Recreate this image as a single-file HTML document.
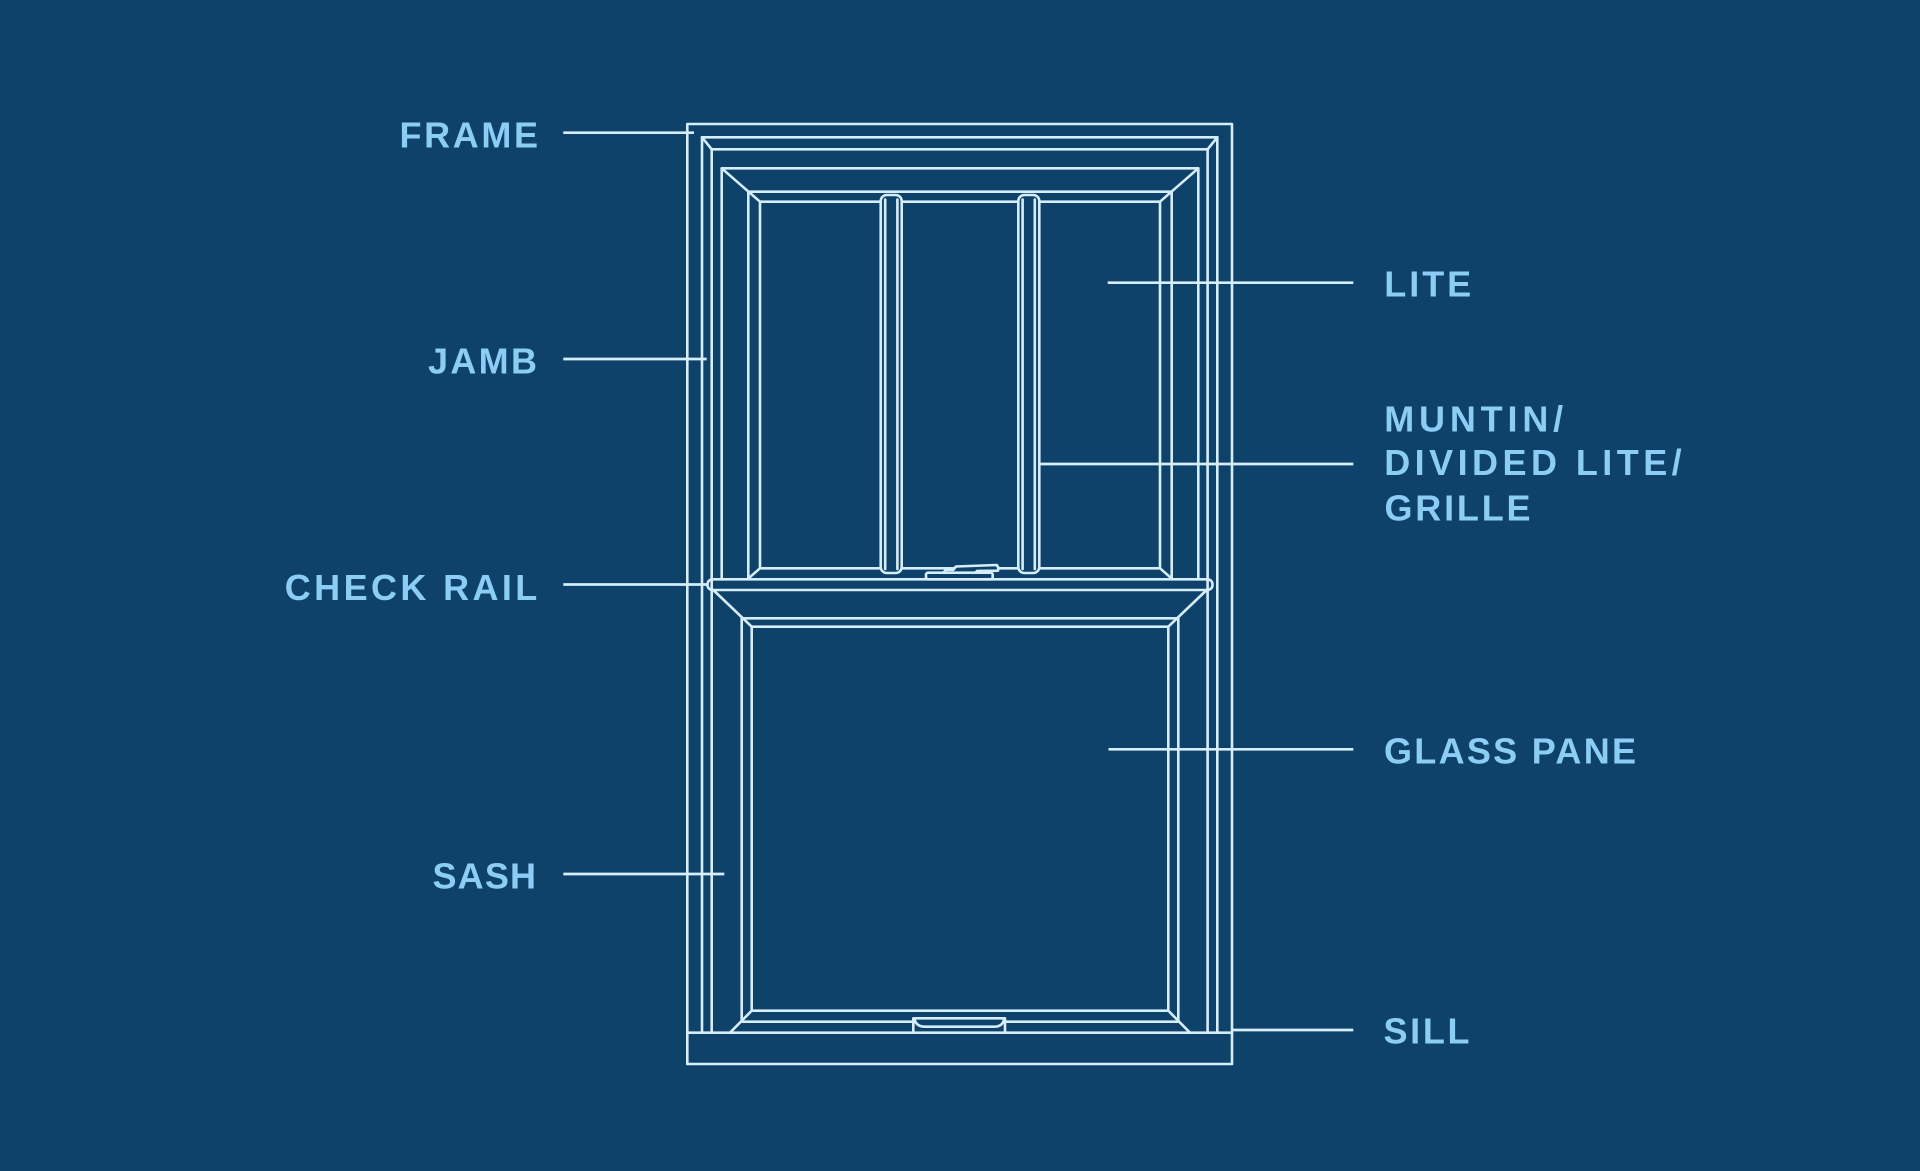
<!DOCTYPE html>
<html>
<head>
<meta charset="utf-8">
<style>
  html, body { margin: 0; padding: 0; background: #0e426a; }
  body { width: 1920px; height: 1171px; overflow: hidden; }
  svg { display: block; }
  .ln { stroke: #d6edfa; stroke-width: 2.6; fill: none; stroke-linecap: round; stroke-linejoin: round; }
  .ld { stroke: #d6edfa; stroke-width: 2.7; fill: none; }
  text { font-family: "Liberation Sans", sans-serif; font-weight: bold; font-size: 36px; fill: #8ccdf5; }
</style>
</head>
<body>
<svg width="1920" height="1171" viewBox="0 0 1920 1171" xmlns="http://www.w3.org/2000/svg">
  <rect x="0" y="0" width="1920" height="1171" fill="#0e426a"/>

  <!-- ===== FRAME ===== -->
  <rect class="ln" x="687.3" y="124" width="544.7" height="940"/>
  <line class="ln" x1="687.3" y1="1032.7" x2="1232" y2="1032.7"/>
  <polyline class="ln" points="702,1032.7 702,137.3 1217.3,137.3 1217.3,1032.7"/>
  <polyline class="ln" points="711.7,1032.7 711.7,149.3 1207.6,149.3 1207.6,1032.7"/>
  <line class="ln" x1="702" y1="137.3" x2="711.7" y2="149.3"/>
  <line class="ln" x1="1217.3" y1="137.3" x2="1207.6" y2="149.3"/>

  <!-- ===== UPPER SASH ===== -->
  <polyline class="ln" points="721.7,579.3 721.7,168.3 1198.3,168.3 1198.3,579.3"/>
  <polyline class="ln" points="748.3,578.5 748.3,191.7 1171.7,191.7 1171.7,578.5"/>
  <rect class="ln" x="760" y="201.7" width="400" height="366.6"/>
  <line class="ln" x1="721.7" y1="168.3" x2="760" y2="201.7"/>
  <line class="ln" x1="1198.3" y1="168.3" x2="1160" y2="201.7"/>
  <line class="ln" x1="760" y1="568.3" x2="748.3" y2="578.5"/>
  <line class="ln" x1="1160" y1="568.3" x2="1171.7" y2="578.5"/>

  <!-- muntins -->
  <rect class="ln" style="fill:#0e426a" x="880.7" y="195" width="21" height="378" rx="6" ry="6"/>
  <line class="ln" x1="885.2" y1="199.5" x2="885.2" y2="569"/>
  <line class="ln" x1="897.4" y1="199.5" x2="897.4" y2="569"/>
  <rect class="ln" style="fill:#0e426a" x="1018.3" y="195" width="21" height="378" rx="6" ry="6"/>
  <line class="ln" x1="1022.6" y1="199.5" x2="1022.6" y2="569"/>
  <line class="ln" x1="1034.8" y1="199.5" x2="1034.8" y2="569"/>

  <!-- ===== CHECK RAIL ===== -->
  <rect class="ln" x="707.5" y="579.3" width="505" height="10.7" rx="5" ry="5"/>

  <!-- latch -->
  <path class="ln" style="fill:#0e426a" d="M943.3,572.7 L946,569.8 L953.3,569.8 L956,566.5 L996.7,565 L998.3,567.5 L998,570.7 L977,570.9 L975,573.3 Z"/>
  <rect class="ln" style="fill:#0e426a" x="926" y="572.7" width="66.7" height="6.6" rx="2" ry="2"/>

  <!-- ===== LOWER SASH ===== -->
  <line class="ln" x1="713.3" y1="590" x2="751.7" y2="626.7"/>
  <line class="ln" x1="1206.7" y1="590" x2="1168.3" y2="626.7"/>
  <rect class="ln" x="741.7" y="618.3" width="436.6" height="403.4"/>
  <rect class="ln" x="751.7" y="626.7" width="416.6" height="384"/>
  <line class="ln" x1="751.7" y1="1010.7" x2="730" y2="1032.7"/>
  <line class="ln" x1="1168.3" y1="1010.7" x2="1190" y2="1032.7"/>

  <!-- lift handle -->
  <rect class="ln" style="fill:#0e426a" x="913.3" y="1018.3" width="91.7" height="14.4"/>
  <path class="ln" d="M914.5,1019.5 Q916.5,1026.7 925,1026.7 L994,1026.7 Q1002.5,1026.7 1004,1019.5"/>

  <!-- ===== LEADER LINES ===== -->
  <line class="ld" x1="563.3" y1="132.7" x2="694" y2="132.7"/>
  <line class="ld" x1="563.3" y1="359" x2="706.7" y2="359"/>
  <line class="ld" x1="563.3" y1="584.5" x2="708" y2="584.5"/>
  <line class="ld" x1="563.3" y1="874" x2="724.3" y2="874"/>

  <line class="ld" x1="1107.7" y1="282.7" x2="1353.3" y2="282.7"/>
  <line class="ld" x1="1039.3" y1="464" x2="1353.3" y2="464"/>
  <line class="ld" x1="1108.5" y1="749.3" x2="1353.3" y2="749.3"/>
  <line class="ld" x1="1232" y1="1030" x2="1353.3" y2="1030"/>

  <!-- ===== LABELS ===== -->
  <text x="399.5" y="147.3" textLength="138.5" lengthAdjust="spacing">FRAME</text>
  <text x="428" y="373.3" textLength="109" lengthAdjust="spacing">JAMB</text>
  <text x="284.8" y="600" textLength="252.5" lengthAdjust="spacing">CHECK RAIL</text>
  <text x="432.5" y="888.3" textLength="103.5" lengthAdjust="spacing">SASH</text>

  <text x="1384.2" y="296.7" textLength="87" lengthAdjust="spacing">LITE</text>
  <text x="1384.2" y="431.7" textLength="179" lengthAdjust="spacing">MUNTIN/</text>
  <text x="1384.2" y="475" textLength="297.5" lengthAdjust="spacing">DIVIDED LITE/</text>
  <text x="1384.5" y="520.7" textLength="146" lengthAdjust="spacing">GRILLE</text>
  <text x="1384" y="763.3" textLength="252" lengthAdjust="spacing">GLASS PANE</text>
  <text x="1383.5" y="1043.3" textLength="86" lengthAdjust="spacing">SILL</text>
</svg>
</body>
</html>
